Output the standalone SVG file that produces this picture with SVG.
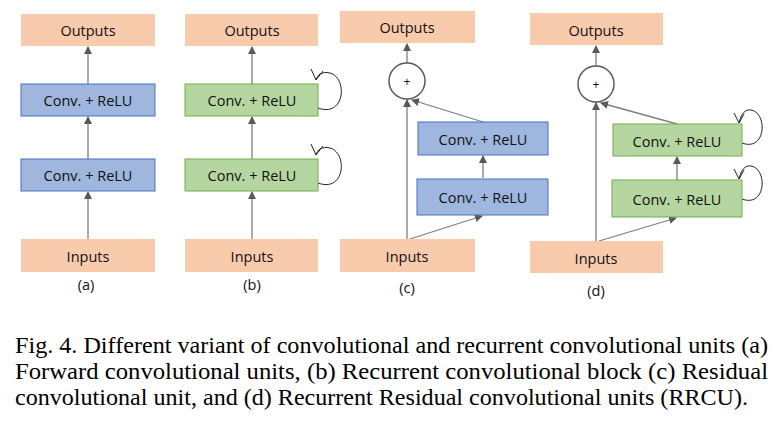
<svg xmlns="http://www.w3.org/2000/svg" width="778" height="429" viewBox="0 0 778 429">
<defs>
<marker id="ah" markerWidth="8" markerHeight="8" refX="7" refY="4" orient="auto" markerUnits="userSpaceOnUse"><path d="M0,0 L8,4 L0,8 z" fill="#595959"/></marker>
<style>
.io{fill:#f8cbad}
.bl{fill:#9fb6de;stroke:#4472c4;stroke-width:1}
.gr{fill:#b5d6a0;stroke:#70ad47;stroke-width:1}
.t{font-family:"Open Sans","Liberation Sans",sans-serif;font-size:14.5px;fill:#111;text-anchor:middle;dominant-baseline:central}
.c{fill:#fff;stroke:#595959;stroke-width:1.5}
.ln{stroke:#7f7f7f;stroke-width:1.3;fill:none;marker-end:url(#ah)}
.lp{stroke:#222;stroke-width:1;fill:none}
.cap{font-family:"Liberation Serif","Times New Roman",serif;font-size:24px;fill:#000}
</style>
</defs>
<g id="connectors">
<line class="ln" x1="88" y1="239" x2="88" y2="192"/>
<line class="ln" x1="88" y1="159" x2="88" y2="117"/>
<line class="ln" x1="88" y1="84" x2="88" y2="47"/>
<line class="ln" x1="252" y1="239" x2="252" y2="192"/>
<line class="ln" x1="252" y1="159" x2="252" y2="117"/>
<line class="ln" x1="252" y1="84" x2="252" y2="47"/>
<line class="ln" x1="407" y1="239" x2="407" y2="100"/>
<line class="ln" x1="410" y1="239" x2="482" y2="216"/>
<line class="ln" x1="483" y1="178" x2="483" y2="156"/>
<line class="ln" x1="483" y1="122" x2="412" y2="100"/>
<line class="ln" x1="407" y1="63" x2="407" y2="44"/>
<line class="ln" x1="596" y1="241" x2="596" y2="103"/>
<line class="ln" x1="599" y1="241" x2="676" y2="218"/>
<line class="ln" x1="677" y1="180" x2="677" y2="157"/>
<line class="ln" x1="677" y1="124" x2="601" y2="103"/>
<line class="ln" x1="596" y1="66" x2="596" y2="46"/>
<path class="lp" d="M318,108 C345,118 348,78 330,73 C322,71 317,75 316,80 M311,69 L316,80 L323,71"/>
<path class="lp" d="M318,183 C345,193 348,153 330,148 C322,146 317,150 316,155 M311,144 L316,155 L323,146"/>
<path class="lp" d="M742,143 C766,152 768,113 751,110 C745,109 741,114 739,123 M734,113 L739,123 L744,114"/>
<path class="lp" d="M742,199 C766,208 768,169 751,166 C745,165 741,170 739,179 M734,169 L739,179 L744,170"/>
</g>
<g id="a">
<g id="a-out"><rect class="io" x="21" y="14" width="134" height="32"/><text class="t" x="88" y="30">Outputs</text></g>
<g id="a-c2"><rect class="bl" x="21" y="84" width="134" height="32"/><text class="t" x="88" y="100">Conv. + ReLU</text></g>
<g id="a-c1"><rect class="bl" x="21" y="159" width="134" height="32"/><text class="t" x="88" y="175">Conv. + ReLU</text></g>
<g id="a-in"><rect class="io" x="21" y="239" width="134" height="33"/><text class="t" x="88" y="256">Inputs</text></g>
<text class="t" x="86" y="284">(a)</text>
</g>
<g id="b">
<g id="b-out"><rect class="io" x="185" y="14" width="133" height="32"/><text class="t" x="252" y="30">Outputs</text></g>
<g id="b-c2"><rect class="gr" x="185" y="84" width="133" height="32"/><text class="t" x="252" y="100">Conv. + ReLU</text></g>
<g id="b-c1"><rect class="gr" x="185" y="159" width="133" height="32"/><text class="t" x="252" y="175">Conv. + ReLU</text></g>
<g id="b-in"><rect class="io" x="185" y="239" width="133" height="33"/><text class="t" x="252" y="256">Inputs</text></g>
<text class="t" x="252" y="284">(b)</text>
</g>
<g id="c">
<g id="c-out"><rect class="io" x="340" y="11" width="135" height="32"/><text class="t" x="407" y="27">Outputs</text></g>
<g id="c-sum"><circle class="c" cx="407" cy="81" r="18"/><text class="t" x="407" y="81" style="font-size:12px">+</text></g>
<g id="c-c2"><rect class="bl" x="418" y="122" width="130" height="33"/><text class="t" x="483" y="139">Conv. + ReLU</text></g>
<g id="c-c1"><rect class="bl" x="417" y="179" width="131" height="36"/><text class="t" x="483" y="197">Conv. + ReLU</text></g>
<g id="c-in"><rect class="io" x="340" y="239" width="135" height="33"/><text class="t" x="407" y="256">Inputs</text></g>
<text class="t" x="407" y="287">(c)</text>
</g>
<g id="d">
<g id="d-out"><rect class="io" x="530" y="13" width="133" height="32"/><text class="t" x="596" y="30">Outputs</text></g>
<g id="d-sum"><circle class="c" cx="596" cy="84" r="18"/><text class="t" x="596" y="84" style="font-size:12px">+</text></g>
<g id="d-c2"><rect class="gr" x="613" y="124" width="129" height="32"/><text class="t" x="677" y="141">Conv. + ReLU</text></g>
<g id="d-c1"><rect class="gr" x="612" y="180" width="130" height="37"/><text class="t" x="677" y="199">Conv. + ReLU</text></g>
<g id="d-in"><rect class="io" x="530" y="241" width="133" height="32"/><text class="t" x="596" y="258">Inputs</text></g>
<text class="t" x="596" y="290">(d)</text>
</g>
<text class="cap" x="15" y="353" textLength="753" lengthAdjust="spacingAndGlyphs">Fig. 4. Different variant of convolutional and recurrent convolutional units (a)</text>
<text class="cap" x="15" y="379" textLength="753" lengthAdjust="spacingAndGlyphs">Forward convolutional units, (b) Recurrent convolutional block (c) Residual</text>
<text class="cap" x="15" y="405" textLength="733" lengthAdjust="spacingAndGlyphs">convolutional unit, and (d) Recurrent Residual convolutional units (RRCU).</text>
</svg>
